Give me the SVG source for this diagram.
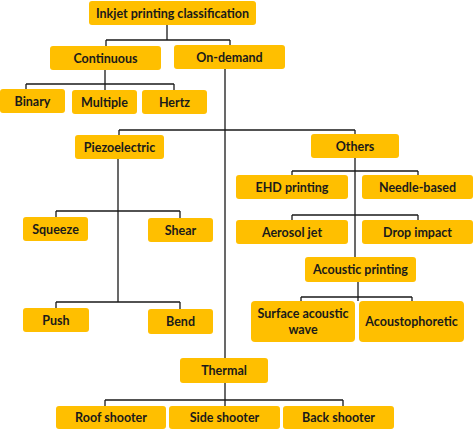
<svg xmlns="http://www.w3.org/2000/svg" width="474" height="434" viewBox="0 0 474 434">
<style>
.b{fill:#FFBF00;}
.t{font-family:Lato,"Liberation Sans",sans-serif;font-weight:bold;font-size:12.5px;fill:#1a1a1a;text-anchor:middle;dominant-baseline:central;}
.c{fill:none;stroke:#1a1a1a;stroke-width:1.3;}
</style>
<rect width="474" height="434" fill="#fff"/>
<g id="connectors" class="c">
<path d="M167,25V40M106,40H230M106,40V46M230,40V45"/>
<path d="M105,70V90M26,84H174M26,84V89M174,84V90"/>
<path d="M225,69V358M119,130H355M119,130V135M355,130V134"/>
<path d="M118,159V302M56,211H180M56,211V217M180,211V218M56,302H180M56,302V308M180,302V309"/>
<path d="M355,158V257M292,171H418M292,171V175M418,171V175M292,215H418M292,215V220M418,215V220"/>
<path d="M358,282V301M301,297H412M301,297V301M412,297V301"/>
<path d="M225,383V406M105,400H343M105,400V406M343,400V406"/>
</g>
<g id="root"><rect class="b" x="89" y="1" width="167" height="24" rx="3"/><text class="t" x="172.5" y="13">Inkjet printing classification</text></g>
<g id="continuous"><rect class="b" x="50" y="46" width="111" height="24" rx="3"/><text class="t" x="105.5" y="58">Continuous</text></g>
<g id="ondemand"><rect class="b" x="174" y="45" width="111" height="24" rx="3"/><text class="t" x="229.5" y="57">On-demand</text></g>
<g id="binary"><rect class="b" x="0" y="89" width="65" height="24" rx="3"/><text class="t" x="32.5" y="101">Binary</text></g>
<g id="multiple"><rect class="b" x="72" y="90" width="65" height="24" rx="3"/><text class="t" x="104.5" y="102">Multiple</text></g>
<g id="hertz"><rect class="b" x="142" y="90" width="65" height="24" rx="3"/><text class="t" x="174.5" y="102">Hertz</text></g>
<g id="piezoelectric"><rect class="b" x="75" y="135" width="89" height="24" rx="3"/><text class="t" x="119.5" y="147">Piezoelectric</text></g>
<g id="others"><rect class="b" x="311" y="134" width="88" height="24" rx="3"/><text class="t" x="355" y="146">Others</text></g>
<g id="squeeze"><rect class="b" x="23" y="217" width="65" height="24" rx="3"/><text class="t" x="55.5" y="229">Squeeze</text></g>
<g id="shear"><rect class="b" x="148" y="218" width="65" height="24" rx="3"/><text class="t" x="180.5" y="230">Shear</text></g>
<g id="push"><rect class="b" x="23" y="308" width="66" height="24" rx="3"/><text class="t" x="56" y="320">Push</text></g>
<g id="bend"><rect class="b" x="148" y="309" width="65" height="25" rx="3"/><text class="t" x="180.5" y="321.5">Bend</text></g>
<g id="ehd"><rect class="b" x="236" y="175" width="112" height="24" rx="3"/><text class="t" x="292" y="187">EHD printing</text></g>
<g id="needle"><rect class="b" x="362" y="175" width="111" height="24" rx="3"/><text class="t" x="417.5" y="187">Needle-based</text></g>
<g id="aerosol"><rect class="b" x="236" y="220" width="112" height="24" rx="3"/><text class="t" x="292" y="232">Aerosol jet</text></g>
<g id="drop"><rect class="b" x="362" y="220" width="111" height="24" rx="3"/><text class="t" x="417.5" y="232">Drop impact</text></g>
<g id="acoustic"><rect class="b" x="305" y="257" width="111" height="25" rx="3"/><text class="t" x="360.5" y="269.5">Acoustic printing</text></g>
<g id="saw"><rect class="b" x="251" y="301" width="104" height="41" rx="4"/><text class="t" x="303" y="313">Surface acoustic</text><text class="t" x="303" y="329">wave</text></g>
<g id="acoustophoretic"><rect class="b" x="359" y="301" width="105" height="41" rx="4"/><text class="t" x="411.5" y="321.5">Acoustophoretic</text></g>
<g id="thermal"><rect class="b" x="180" y="358" width="88" height="25" rx="3"/><text class="t" x="224" y="370.5">Thermal</text></g>
<g id="roof"><rect class="b" x="56" y="406" width="110" height="23" rx="3"/><text class="t" x="111" y="417.5">Roof shooter</text></g>
<g id="side"><rect class="b" x="169" y="406" width="111" height="23" rx="3"/><text class="t" x="224.5" y="417.5">Side shooter</text></g>
<g id="back"><rect class="b" x="283" y="406" width="111" height="23" rx="3"/><text class="t" x="338.5" y="417.5">Back shooter</text></g>
</svg>
